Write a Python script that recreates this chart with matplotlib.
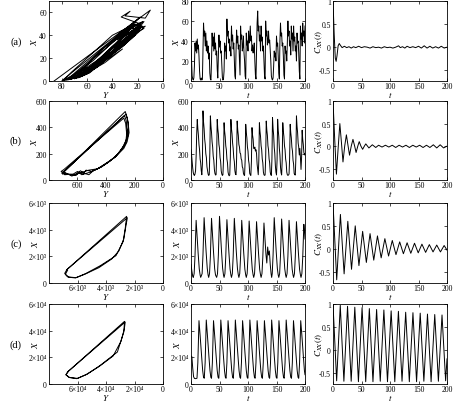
import numpy as np
import matplotlib
matplotlib.use('Agg')
import matplotlib.pyplot as plt

plt.rcParams['font.family'] = ['Liberation Serif', 'DejaVu Serif']
plt.rcParams['mathtext.fontset'] = 'stix'

# ---------------- data ----------------
row_labels = ['(a)', '(b)', '(c)', '(d)']

# --- X(t), row (a): one value per unit of t, t = 0..200
X_a = [35, 20, 5, 2, 1,
       3, 15, 38, 30, 40, 28, 42, 32, 36, 25, 10, 2, 1, 3, 1,
       2, 30, 58, 45, 50, 35, 48, 30, 40, 28, 35, 22, 28, 8, 2,
       1, 20, 48, 35, 44, 30, 48, 32, 38, 26, 30, 12, 3, 25, 46,
       34, 40, 28, 30, 18, 4, 1, 2, 10, 38, 30, 35, 22, 62, 45,
       50, 38, 42, 30, 34, 25, 55, 40, 46, 32, 38, 20, 5, 2, 30,
       51, 38, 45, 32, 36, 22, 6, 55, 42, 46, 30, 34, 45, 28, 20,
       5, 2, 48, 36, 40, 30, 50, 38, 42, 55, 40, 45, 30, 36, 28,
       32, 38, 20, 6, 2, 30, 58, 70, 50, 55, 40, 46, 30, 55, 40,
       44, 30, 35, 20, 5, 2, 60, 45, 50, 36, 40, 50, 38, 41, 30,
       20, 5, 2, 1, 3, 15, 30, 24, 28, 20, 45, 35, 38, 25, 8,
       2, 40, 58, 45, 48, 35, 38, 25, 6, 2, 35, 28, 30, 20, 38,
       60, 45, 50, 35, 40, 26, 55, 42, 48, 30, 55, 40, 44, 30, 35,
       20, 48, 38, 40, 28, 10, 2, 55, 42, 48, 35, 58, 45, 50, 38,
       55]

# --- X(t), row (b): one value per unit of t
X_b = [230, 190, 140, 90, 55, 40, 35, 45, 70, 180,
       350, 460, 390, 340, 270, 230, 160, 130, 70, 40,
       120, 525, 440, 390, 310, 270, 200, 170, 100, 70,
       45, 35, 40, 200, 487, 410, 360, 290, 250, 180,
       150, 80, 50, 38, 40, 180, 460, 390, 350, 270,
       240, 170, 140, 70, 45, 35, 40, 150, 435, 370,
       330, 260, 230, 160, 130, 60, 40, 32, 38, 170,
       460, 390, 350, 280, 240, 170, 140, 70, 45, 40,
       160, 448, 380, 340, 270, 250, 205, 200, 160, 150,
       100, 90, 50, 38, 35, 150, 423, 360, 320, 250,
       220, 150, 120, 50, 40, 35, 140, 398, 340, 310,
       240, 240, 250, 220, 230, 200, 120, 80, 40, 150,
       435, 370, 330, 260, 230, 160, 130, 60, 40, 35,
       38, 170, 448, 380, 340, 260, 230, 160, 130, 60,
       40, 35, 160, 474, 390, 340, 250, 200, 110, 60,
       38, 150, 461, 380, 330, 240, 190, 100, 55, 38,
       150, 435, 370, 330, 260, 230, 160, 130, 60, 40,
       35, 38, 45, 160, 423, 360, 320, 250, 220, 150,
       120, 50, 40, 38, 170, 487, 410, 360, 280, 250,
       190, 240, 170, 80, 170, 378, 310, 270, 210, 190,
       200]

# --- X(t), row (c): break points of the trace
t_c = [0, 1.5, 3, 4,
       5.5, 7, 9, 10.5, 12.5, 14.5, 16, 17,
       19.5, 21, 23, 24.5, 26.5, 28.5, 30, 31,
       32.5, 34, 36, 37.5, 39.5, 41.5, 43, 45,
       46.5, 48, 50, 51.5, 53.5, 55.5, 57, 58,
       59.5, 61, 63, 64.5, 66.5, 68.5, 70, 71,
       72.5, 74, 76, 77.5, 79.5, 81.5, 83, 84,
       85.5, 87, 89, 90.5, 92.5, 94.5, 96, 97,
       98.5, 100, 102, 103.5, 105.5, 107.5, 109, 110,
       111.5, 113, 115, 116.5, 118.5, 120.5, 122, 123,
       124.5, 126, 128, 129.5, 131.5, 133, 134.5, 136, 137.5, 139, 140.5, 141.5,
       142.5, 144, 146, 147.5, 149.5, 151.5, 153, 154,
       155.5, 157, 159, 160.5, 162.5, 164.5, 166, 167,
       168.5, 170, 172, 173.5, 175.5, 177.5, 179, 180,
       181.5, 183, 185, 186.5, 188.5, 190.5, 192, 193,
       194.5, 196, 198, 199, 200]
X_c = [1400, 900, 500, 420,
       700, 2000, 4700, 3650, 2250, 1050, 600, 420,
       700, 2100, 4900, 3800, 2350, 1100, 600, 420,
       700, 2000, 4850, 3780, 2330, 1070, 600, 420,
       700, 2100, 5000, 3900, 2400, 1100, 600, 420,
       700, 2000, 4750, 3700, 2280, 1050, 600, 420,
       700, 2000, 4850, 3780, 2330, 1070, 600, 420,
       700, 2000, 4700, 3670, 2260, 1030, 600, 420,
       700, 2000, 4650, 3630, 2230, 1020, 600, 420,
       700, 2000, 4600, 3590, 2210, 1010, 600, 420,
       700, 1950, 4500, 3500, 2150, 1500, 2700, 2100, 2400, 1400, 700, 420,
       700, 2100, 4900, 3820, 2350, 1080, 600, 420,
       700, 2050, 4800, 3740, 2300, 1060, 600, 420,
       700, 2000, 4700, 3670, 2260, 1030, 600, 420,
       700, 2000, 4600, 3590, 2210, 1010, 600, 420,
       700, 1900, 4400, 3900, 3300]

# --- X(t), row (d): break points of the trace
t_d = [0, 1.5, 3, 4.5, 6, 8,
       10.5, 12, 14, 16, 18.5, 20.5, 22,
       23.3, 24.8, 26.8, 28.8, 31.3, 33.3, 34.8,
       36, 37.5, 39.5, 41.5, 44, 46, 47.5,
       48.8, 50.3, 52.3, 54.3, 56.8, 58.8, 60.3,
       61.5, 63, 65, 67, 69.5, 71.5, 73,
       74.3, 75.8, 77.8, 79.8, 82.3, 84.3, 85.8,
       87, 88.5, 90.5, 92.5, 95, 97, 98.5,
       99.8, 101.3, 103.3, 105.3, 107.8, 109.8, 111.3,
       112.5, 114, 116, 118, 120.5, 122.5, 124,
       125.3, 126.8, 128.8, 130.8, 133.3, 135.3, 136.8,
       138, 139.5, 141.5, 143.5, 146, 148, 149.5,
       150.8, 152.3, 154.3, 156.3, 158.8, 160.8, 162.3,
       163.5, 165, 167, 169, 171.5, 173.5, 175,
       176.3, 177.8, 179.8, 181.8, 184.3, 186.3, 187.8,
       189, 190.5, 192.5, 194.5, 197, 199, 200]
X_d = [21000, 20500, 12000, 5500, 4200, 4000,
       4300, 16000, 47500, 36500, 21500, 10000, 5000,
       4300, 16000, 48000, 36500, 21500, 10000, 5000,
       4300, 16000, 47500, 36500, 21500, 10000, 5000,
       4300, 16000, 48000, 36500, 21500, 10000, 5000,
       4300, 16000, 47500, 36500, 21500, 10000, 5000,
       4300, 16000, 48000, 36500, 21500, 10000, 5000,
       4300, 16000, 47500, 36500, 21500, 10000, 5000,
       4300, 16000, 48000, 36500, 21500, 10000, 5000,
       4300, 16000, 47500, 36500, 21500, 10000, 5000,
       4300, 16000, 47500, 36500, 21500, 10000, 5000,
       4300, 16000, 48000, 36500, 21500, 10000, 5000,
       4300, 16000, 47500, 36500, 21500, 10000, 5000,
       4300, 16000, 48000, 36500, 21500, 10000, 5000,
       4300, 16000, 47500, 36500, 21500, 10000, 5000,
       4300, 16000, 47500, 36500, 21500, 10000, 7000]

# --- phase portraits (Y, X)
phase_a_Y = [86, 10, 14, 30, 26, 33, 18, 40, 62, 78,
             72, 40, 22, 28, 48, 66, 74, 55, 30, 18,
             26, 42, 60, 70, 48, 24, 16, 22, 38, 56,
             68, 76, 50, 28, 15, 20, 34, 52, 64, 79,
             18, 36, 20, 17, 30, 46, 60, 68, 56, 32,
             19, 15, 28, 44, 58, 72, 50, 28, 16, 22,
             40, 56, 66, 75, 46, 26, 18, 24, 42, 58,
             70, 62, 40, 22, 14, 22, 36, 52, 63, 80,
             55, 30, 20, 28, 48, 62,
             74, 52, 36, 24, 30, 48, 66, 76, 58, 40,
             28, 34, 50, 70, 62, 44, 30, 22, 32, 54,
             72, 68, 50, 34, 26, 38, 58, 74, 60, 42,
             26, 20, 30, 46, 64, 78, 66, 46, 32, 40,
             56, 70]
phase_a_X = [0, 62, 55, 57, 61, 56, 50, 30, 5, 1,
             8, 40, 50, 43, 22, 4, 2, 18, 44, 50,
             40, 24, 7, 2, 28, 48, 52, 45, 30, 12,
             3, 1, 26, 46, 52, 45, 32, 13, 4, 1,
             56, 36, 50, 48, 36, 20, 8, 3, 10, 38,
             48, 46, 38, 20, 7, 2, 18, 42, 48, 42,
             26, 10, 4, 1, 28, 46, 46, 38, 22, 8,
             2, 6, 26, 45, 48, 40, 30, 12, 5, 0,
             14, 40, 44, 36, 18, 5,
             2, 18, 32, 42, 34, 16, 5, 1, 10, 26,
             38, 30, 14, 3, 6, 20, 34, 40, 30, 12,
             2, 4, 16, 30, 38, 28, 10, 2, 6, 22,
             38, 44, 32, 18, 5, 1, 3, 16, 28, 22,
             10, 3]

phase_b_Y = [700, 265, 250, 242, 248, 270, 300, 340, 390, 440, 500, 540, 560, 590, 620, 670, 705,
             690, 270, 258, 250, 256, 282, 320, 370, 430, 490, 520, 550, 580, 610, 660, 700,
             710, 260, 245, 238, 252, 275, 330, 380, 450, 510, 570, 600, 630, 690, 715,
             695, 275, 262, 255, 262, 290, 335, 395, 460, 520, 580, 640, 685, 705]
phase_b_X = [55, 520, 470, 400, 330, 270, 220, 170, 130, 95, 65, 75, 45, 60, 40, 45, 60,
             70, 490, 450, 380, 310, 250, 195, 145, 100, 70, 40, 50, 70, 35, 42, 50,
             50, 500, 440, 360, 290, 240, 180, 140, 90, 60, 40, 65, 45, 40, 65,
             80, 470, 430, 350, 280, 230, 175, 130, 85, 75, 55, 30, 55, 45]

phase_c_Y = [6750, 2550, 2650, 2800, 3300, 4400, 5400, 6100, 6700, 6900, 6750,
             2500, 2600, 2750, 3100, 3600, 4500, 5500, 6150, 6600, 6850, 6700]
phase_c_X = [1000, 5000, 4100, 3100, 2050, 1300, 720, 400, 460, 720, 1000,
             4900, 4300, 3300, 2400, 1800, 1150, 650, 380, 430, 650, 950]

phase_d_Y = [67000, 27000, 27500, 32000, 44000, 53000, 60000, 66000, 68000, 67000,
             26500, 27200, 29500, 35000, 45000, 54000, 60500, 65500, 68200, 66500]
phase_d_X = [9000, 47000, 39000, 24000, 14000, 7500, 4200, 5000, 6800, 9000,
             46500, 41000, 32000, 21000, 13000, 7000, 4000, 4800, 7000, 9200]

# --- autocorrelation C_XX(t)
t_ca = [0, 2, 4, 5.5, 7, 9, 11, 13, 16, 20, 24, 28, 32, 36, 40, 45, 50, 55, 60, 65,
        70, 75, 80, 85, 90, 95, 100, 105, 110, 115, 118, 122, 126, 130, 135, 140, 145,
        150, 155, 160, 165, 170, 175, 180, 185, 190, 195, 200]
C_a = [1, 0.3, -0.25, -0.32, -0.2, 0.02, 0.07, 0.03, -0.02, 0.01, -0.02, 0.0, -0.03, 0.0,
       -0.02, 0.01, -0.02, 0.0, -0.01, -0.03, 0.0, -0.02, -0.01, -0.03, 0.0, -0.02, -0.01,
       -0.03, -0.01, 0.02, -0.02, 0.0, -0.03, 0.01, -0.02, 0.0, -0.02, 0.01, -0.03, 0.02,
       -0.03, 0.01, -0.03, 0.0, -0.03, 0.01, -0.03, -0.01]

t_cb = [0, 3, 6, 9, 12, 15, 17.5, 20.5, 23.5, 26.5, 29, 32, 35, 38, 40.5, 43.5, 46, 49,
        52, 55, 57.5, 63, 69, 75, 80, 86, 92, 98, 104, 110, 116, 122, 128, 134, 140, 146,
        152, 158, 164, 170, 176, 182, 188, 194, 200]
C_b = [1, 0.15, -0.62, -0.05, 0.5, 0.05, -0.35, 0.0, 0.25, 0.0, -0.2, 0.0, 0.15, 0.0,
       -0.14, 0.0, 0.1, 0.0, -0.07, 0.0, 0.05, -0.04, 0.03, -0.03, 0.02, -0.02, 0.02,
       -0.02, 0.02, -0.03, 0.02, -0.02, 0.02, -0.03, 0.02, -0.02, 0.02, -0.03, 0.02,
       -0.03, 0.03, -0.04, 0.03, -0.04, 0.0]

t_cc = [0, 6.5, 13, 19.5, 26, 32.5, 39, 45.5, 52, 58.5, 65, 71.5, 78, 84.5, 91, 97.5,
        104, 110.5, 117, 123.5, 130, 136.5, 143, 149.5, 156, 162.5, 169, 175.5, 182,
        188.5, 195, 200]
C_c = [1, -0.68, 0.75, -0.55, 0.6, -0.45, 0.5, -0.37, 0.38, -0.3, 0.33, -0.25, 0.28,
       -0.2, 0.22, -0.16, 0.18, -0.13, 0.15, -0.11, 0.13, -0.1, 0.12, -0.09, 0.1, -0.08,
       0.09, -0.07, 0.08, -0.07, 0.07, -0.03]

t_cd = [0, 6.4, 12.75, 19.1, 25.5, 31.9, 38.25, 44.6, 51, 57.4, 63.75, 70.1, 76.5, 82.9,
        89.25, 95.6, 102, 108.4, 114.75, 121.1, 127.5, 133.9, 140.25, 146.6, 153, 159.4,
        165.75, 172.1, 178.5, 184.9, 191.25, 197.6, 200]
C_d = [1, -0.68, 0.97, -0.69, 0.95, -0.69, 0.93, -0.7, 0.92, -0.7, 0.9, -0.7, 0.88,
       -0.69, 0.87, -0.7, 0.85, -0.7, 0.84, -0.69, 0.82, -0.7, 0.81, -0.7, 0.8, -0.69,
       0.78, -0.7, 0.77, -0.69, 0.76, -0.68, -0.2]

# tick labels
ticks_phase_x = [[80, 60, 40, 20, 0], [600, 400, 200, 0], [6000, 4000, 2000, 0], [60000, 40000, 20000, 0]]
labels_phase_x = [['80', '60', '40', '20', '0'], ['600', '400', '200', '0'],
                  ['6×10³', '4×10³', '2×10³', '0'],
                  ['6×10⁴', '4×10⁴', '2×10⁴', '0']]
ticks_X = [[0, 20, 40, 60], [0, 200, 400, 600], [0, 2000, 4000, 6000], [0, 20000, 40000, 60000]]
labels_X = [['0', '20', '40', '60'], ['0', '200', '400', '600'],
            ['0', '2×10³', '4×10³', '6×10³'],
            ['0', '2×10⁴', '4×10⁴', '6×10⁴']]
ticks_X_mid_a = [0, 20, 40, 60, 80]
ticks_t = [0, 50, 100, 150, 200]
labels_t = ['0', '50', '100', '150', '200']
ticks_C = [-0.5, 0, 0.5, 1]
labels_C = ['-0.5', '0', '0.5', '1']

# ---------------- figure ----------------
W, H = 454, 402
fig = plt.figure(figsize=(W / 100, H / 100), dpi=100)

col_left = [49, 191, 333]
col_w = 114
row_top = [2, 102, 204, 305]
row_bot = [82, 181, 284, 385]

phase_xlim = [(90, 0), (800, 0), (8000, 0), (80000, 0)]
phase_ylim = [(0, 70), (0, 600), (0, 6000), (0, 60000)]
mid_ylim = [(0, 80), (0, 600), (0, 6000), (0, 60000)]

# label positions (axes fraction) per row, per column
ylab_x = [[-0.135, -0.135, -0.115],
          [-0.13, -0.13, -0.115],
          [-0.125, -0.125, -0.115],
          [-0.125, -0.125, -0.115]]
XLAB_Y = -0.165

phase_data = [(phase_a_Y, phase_a_X), (phase_b_Y, phase_b_X), (phase_c_Y, phase_c_X), (phase_d_Y, phase_d_X)]
ts_data = [(np.arange(len(X_a)), X_a), (np.arange(len(X_b)), X_b), (t_c, X_c), (t_d, X_d)]
ac_data = [(t_ca, C_a), (t_cb, C_b), (t_cc, C_c), (t_cd, C_d)]

FS = 5.5
LW = 0.7


def style(ax, r, c, xl, yl):
    ax.tick_params(direction='in', length=2.2, width=0.5, labelsize=FS,
                   top=True, right=True)
    ax.tick_params(axis='x', pad=1.0)
    ax.tick_params(axis='y', pad=1.5)
    for s in ax.spines.values():
        s.set_linewidth(0.6)
    ax.set_xlabel(xl, fontsize=6.5)
    ax.set_ylabel(yl, fontsize=6.5)
    ax.xaxis.set_label_coords(0.5, XLAB_Y)
    ax.yaxis.set_label_coords(ylab_x[r][c], 0.5)
    ax.xaxis.label.set_va('center')
    ax.yaxis.label.set_va('center')


for r in range(4):
    b = 1 - row_bot[r] / H
    h = (row_bot[r] - row_top[r]) / H
    axs = [fig.add_axes([col_left[c] / W, b, col_w / W, h]) for c in range(3)]

    # phase portrait
    ax = axs[0]
    Yp, Xp = phase_data[r]
    ax.plot(Yp, Xp, color='black', lw=LW)
    ax.set_xlim(*phase_xlim[r])
    ax.set_ylim(*phase_ylim[r])
    ax.set_xticks(ticks_phase_x[r])
    ax.set_xticklabels(labels_phase_x[r])
    ax.set_yticks(ticks_X[r])
    ax.set_yticklabels(labels_X[r])
    style(ax, r, 0, r'$Y$', r'$X$')

    # time series
    ax = axs[1]
    tt, xx = ts_data[r]
    ax.plot(tt, xx, color='black', lw=LW)
    ax.set_xlim(0, 200)
    ax.set_ylim(*mid_ylim[r])
    ax.set_xticks(ticks_t)
    ax.set_xticklabels(labels_t)
    if r == 0:
        ax.set_yticks(ticks_X_mid_a)
        ax.set_yticklabels([str(v) for v in ticks_X_mid_a])
    else:
        ax.set_yticks(ticks_X[r])
        ax.set_yticklabels(labels_X[r])
    style(ax, r, 1, r'$t$', r'$X$')

    # autocorrelation
    ax = axs[2]
    tc, cc = ac_data[r]
    ax.plot(tc, cc, color='black', lw=LW)
    ax.set_xlim(0, 200)
    ax.set_ylim(-0.75, 1.0)
    ax.set_xticks(ticks_t)
    ax.set_xticklabels(labels_t)
    ax.set_yticks(ticks_C)
    ax.set_yticklabels(labels_C)
    style(ax, r, 2, r'$t$', r'$C_{XX}(t)$')

    fig.text(16 / W, 1 - ((row_top[r] + row_bot[r]) / 2) / H, row_labels[r],
             fontsize=7.5, ha='center', va='center')

fig.savefig('out.png', dpi=100)
